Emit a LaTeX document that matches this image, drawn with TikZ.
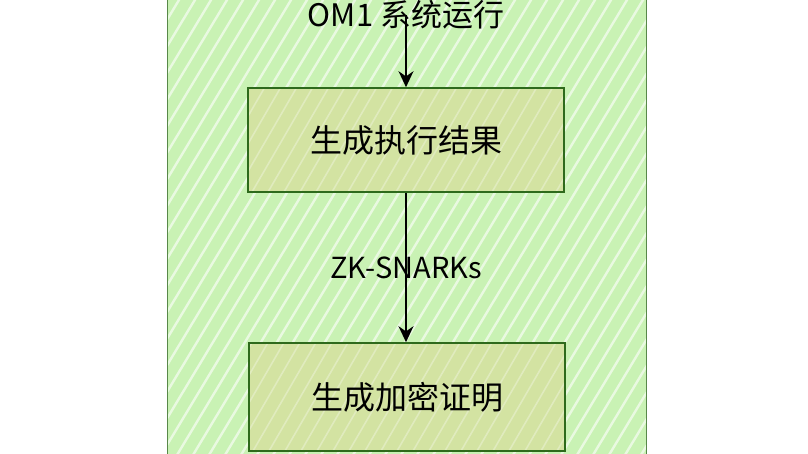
\documentclass[tikz,border=0pt]{standalone}
\usepackage{fontspec}
\setmainfont{Noto Sans CJK SC}
\usetikzlibrary{arrows.meta}
\definecolor{kadergroen}{HTML}{C9F2B4}
\definecolor{blokgroen}{HTML}{D3E3A2}
\definecolor{randgroen}{HTML}{2E6A1C}
\tikzset{
  % De blokken in de kader
  blok/.style={%
    draw=randgroen,
    line width=1.6pt,
    fill=blokgroen,
    minimum width=316pt,
    font=\fontsize{32}{38}\selectfont,
    path picture={% witte arcering
      \foreach \s in {-300,-284,...,340}
        \draw[white, opacity=.3, line width=1.6pt]
          ([xshift=\s pt]path picture bounding box.south west) -- ++(90pt,155pt);
    }
  },
  % Losse tekst en pijlen
  tekst/.style={font=\fontsize{29}{35}\selectfont, inner sep=2pt},
  pijl/.style={-{Stealth[length=16pt, width=15pt]}, line width=1.4pt, black}
}
\begin{document}
\begin{tikzpicture}[x=1pt, y=-1pt]
  \useasboundingbox (0,0) rectangle (808,454);

  % --- de groene kader met arcering ---
  \fill[kadergroen] (167,-5) rectangle (646,460);
  \begin{scope}
    \clip (167,-5) rectangle (646,460);
    \foreach \x in {150,166,...,950}
      \draw[white, opacity=.6, line width=2.4pt] (\x-280,460) -- (\x,-5);
  \end{scope}
  \draw[randgroen!80, line width=1pt] (167,-5) rectangle (646,460);

  % --- de stappen ---
  \node[tekst, font=\fontsize{31}{37}\selectfont] (systeem) at (406,15) {OM1 系统运行};
  \node[blok, minimum height=104pt] (resultaat) at (406,140) {生成执行结果};
  \node[blok, minimum height=108pt] (bewijs) at (407,397) {生成加密证明};

  \draw[pijl] (systeem.center) -- (resultaat.north);
  \draw[pijl] (resultaat.south) -- node[tekst] {ZK-SNARKs} (resultaat.south |- bewijs.north);

\end{tikzpicture}
\end{document}
